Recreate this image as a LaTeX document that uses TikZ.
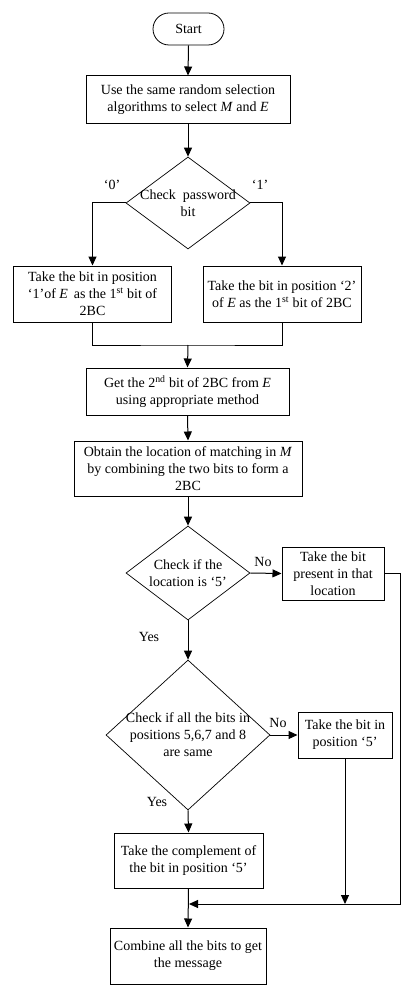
\documentclass[tikz,border=0pt]{standalone}
\usepackage{fontspec}
\setmainfont{Liberation Serif}
\usetikzlibrary{arrows.meta,shapes.geometric}
\begin{document}
\begin{tikzpicture}[x=1pt,y=-1pt,
  font=\fontsize{14}{17}\selectfont,
  box/.style={draw,line width=1pt,inner sep=0pt,align=center},
  dia/.style={draw,shape=diamond,line width=0.7pt,inner sep=0pt},
  term/.style={draw,line width=0.8pt,rectangle,rounded corners=16pt,inner sep=0pt,minimum width=71pt,minimum height=32pt},
  conn/.style={line width=1pt},
  arr/.style={conn,-{Triangle[length=9pt,width=8pt]}},
  lbl/.style={inner sep=0pt}]
\useasboundingbox (0,0) rectangle (410,1000);
\node[term] (start) at (188.5,29) {Start};
\node[box,minimum width=204pt,minimum height=48pt] (b1) at (188,100)
  {Use the same random selection\\algorithms to select \textit{M} and \textit{E}};
\node[dia,minimum width=124pt,minimum height=92pt] (d1) at (188,203) {};
\node[lbl,align=center] (d1t) at (d1.center) {Check\ \ password\\bit};
\node[box,minimum width=158pt,minimum height=56pt] (bl) at (92.5,294)
  {Take the bit in position\\‘1’of \textit{E}\, as the 1\textsuperscript{st} bit of\\2BC};
\node[box,minimum width=158pt,minimum height=56pt] (br) at (282,294)
  {Take the bit in position ‘2’\\of \textit{E} as the 1\textsuperscript{st} bit of 2BC};
\coordinate (join) at (188,345);
\node[box,minimum width=203pt,minimum height=47pt] (b2) at (187.5,391.5)
  {Get the 2\textsuperscript{nd} bit of 2BC from \textit{E}\\using appropriate method};
\node[box,minimum width=228pt,minimum height=55pt] (b3) at (188,468.5)
  {Obtain the location of matching in \textit{M}\\by combining the two bits to form a\\2BC};
\node[dia,minimum width=124pt,minimum height=94pt] (d2) at (188,573) {};
\node[lbl,align=center] (d2t) at (d2.center) {Check if the\\location is ‘5’};
\node[box,minimum width=102pt,minimum height=53pt] (bn1) at (333,573.5)
  {Take the bit\\present in that\\location};
\node[dia,minimum width=164pt,minimum height=150pt] (d3) at (188,735) {};
\node[lbl,align=center] (d3t) at (d3.center) {Check if all the bits in\\positions 5,6,7 and 8\\are same};
\node[box,minimum width=94pt,minimum height=46pt] (bn2) at (345,735)
  {Take the bit in\\position ‘5’};
\node[box,minimum width=149pt,minimum height=55pt] (b4) at (188.5,860.5)
  {Take the complement of\\the bit in position ‘5’};
\node[box,minimum width=156pt,minimum height=56pt] (b5) at (188,956)
  {Combine all the bits to get\\the message};
\coordinate (m) at (189,904);
\coordinate (rr) at (400,904);
% labels
\node[lbl] (l0) at (112,185) {‘0’};
\node[lbl] (l1) at (260,185) {‘1’};
\node[lbl] (no1) at (263,562) {No};
\node[lbl] (yes1) at (149,637) {Yes};
\node[lbl] (no2) at (278,723) {No};
\node[lbl] (yes2) at (157,802) {Yes};
% connectors
\draw[arr] (start.south) -- (b1.north);
\draw[arr] (b1.south) -- (d1.north);
\draw[arr] (d1.west) -| (bl.north);
\draw[arr] (d1.east) -| (br.north);
\draw[conn] (bl.south) |- (join) -| (br.south);
\draw[arr] (join) -- (b2.north);
\draw[arr] (b2.south) -- (b3.north);
\draw[arr] (b3.south) -- (d2.north);
\draw[arr] (d2.east) -- (bn1.west);
\draw[arr] (d2.south) -- (d3.north);
\draw[arr] (d3.east) -- (bn2.west);
\draw[arr] (d3.south) -- (b4.north);
\draw[arr] (b4.south) -- (b5.north);
\draw[arr] (bn1.east) -| (rr) -- (m);
\draw[arr] (bn2.south) -- (bn2.south |- rr);
\end{tikzpicture}
\end{document}
